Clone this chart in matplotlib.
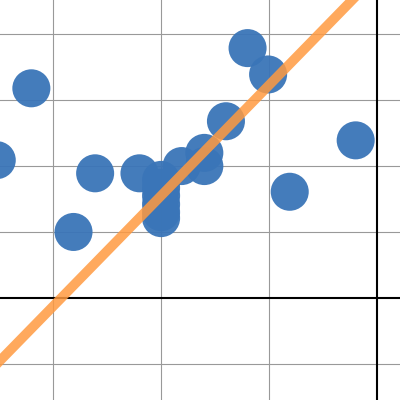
import matplotlib.pyplot as plt
import numpy as np

x_vals = [-3.52, -3.20, -2.81, -2.61, -2.20, -2.0, -2.0, -2.0, -2.0, -2.0, -2.0,
          -1.81, -1.60, -1.60, -1.40, -1.20, -1.01, -0.81, -0.20]
y_vals = [2.09, 3.18, 1.0, 1.89, 1.89, 1.79, 1.67, 1.55, 1.42, 1.30, 1.21,
          2.0, 2.0, 2.2, 2.68, 3.79, 3.39, 1.61, 2.39]
fit_slope = 1.68
fit_intercept = 4.91

fig = plt.figure(figsize=(4, 4), dpi=100)
ax = fig.add_axes([0, 0, 1, 1])
ax.set_xlim(-3.49, 0.21)
ax.set_ylim(-1.55, 4.52)

for gx in [-3, -2, -1]:
    ax.axvline(gx, color='#999999', lw=0.8, zorder=0)
for gy in [-1, 1, 2, 3, 4]:
    ax.axhline(gy, color='#999999', lw=0.8, zorder=0)
ax.axvline(0, color='black', lw=1.5, zorder=0)
ax.axhline(0, color='black', lw=1.5, zorder=0)

ax.scatter(x_vals, y_vals, s=750, color='#3a75b8', alpha=0.95, edgecolors='none', zorder=2)

lx = np.array([-3.6, 0.3])
ax.plot(lx, fit_slope * lx + fit_intercept, color='#ff9a40', lw=7, alpha=0.85, zorder=3)

ax.set_xticks([])
ax.set_yticks([])
for s in ax.spines.values():
    s.set_visible(False)

fig.savefig('out.png', dpi=100)
